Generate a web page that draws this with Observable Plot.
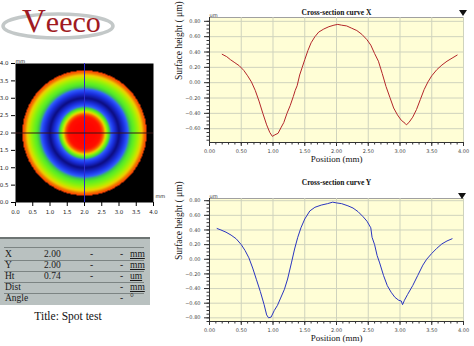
<!DOCTYPE html>
<html><head><meta charset="utf-8">
<script src="https://cdn.jsdelivr.net/npm/d3@7"></script>
<script src="https://cdn.jsdelivr.net/npm/@observablehq/plot@0.6"></script>
<style>
body{margin:0;background:#fff;}
#page{position:relative;width:474px;height:346px;overflow:hidden;background:#fff;font-family:"Liberation Serif",serif;}
.abs{position:absolute;}
#table{left:0;top:237px;width:150px;height:66px;background:#b9c1c0;border-top:2px solid #6d7473;}
.row{position:absolute;left:4px;width:140px;height:10.5px;line-height:10.5px;font-size:9.5px;color:#1a1a1a;border-bottom:1px solid #7c8483;}
.row span{position:absolute;top:0;}
.tri{width:0;height:0;border-left:4px solid transparent;border-right:4px solid transparent;border-top:6px solid #111;}
</style></head>
<body><div id="page">
<div id="logo" class="abs" style="left:0;top:0"></div>
<div id="heat" class="abs" style="left:-12px;top:50px"></div>
<div id="table" class="abs"><div class="abs" style="left:4px;top:8px;width:140px;border-top:1px solid #7c8483"></div></div>
<div class="abs" style="left:0;top:310px;width:136px;text-align:center;font-size:11.5px;color:#111">Title: Spot test</div>
<div id="cx" class="abs" style="left:170px;top:0"></div>
<div id="cy" class="abs" style="left:170px;top:170px"></div>
<div class="abs tri" style="left:459px;top:10px"></div>
<div class="abs tri" style="left:458px;top:193px"></div>
</div>
<script>
// ---- data ----
const curveXpos = [0.20,0.27,0.33,0.40,0.47,0.54,0.60,0.66,0.72,0.78,0.84,0.90,0.95,0.99,1.03,1.08,1.13,1.17,1.22,1.27,1.32,1.35,1.38,1.42,1.46,1.50,1.55,1.60,1.66,1.72,1.80,1.88,1.96,2.02,2.08,2.16,2.24,2.32,2.40,2.48,2.54,2.60,2.66,2.72,2.78,2.84,2.90,2.96,3.02,3.08,3.10,3.14,3.20,3.26,3.32,3.38,3.44,3.50,3.58,3.66,3.74,3.82,3.90];
const curveXht  = [0.37,0.34,0.30,0.26,0.22,0.16,0.09,0.01,-0.10,-0.24,-0.40,-0.55,-0.65,-0.70,-0.68,-0.66,-0.58,-0.52,-0.40,-0.30,-0.18,-0.10,-0.04,0.10,0.20,0.30,0.42,0.52,0.60,0.66,0.70,0.73,0.75,0.76,0.75,0.74,0.71,0.68,0.63,0.56,0.49,0.38,0.28,0.12,-0.05,-0.19,-0.33,-0.42,-0.49,-0.53,-0.55,-0.52,-0.45,-0.35,-0.22,-0.09,0.01,0.09,0.17,0.23,0.28,0.32,0.36];
const curveYpos = [0.12,0.18,0.26,0.34,0.42,0.50,0.56,0.62,0.68,0.74,0.80,0.86,0.90,0.93,0.97,1.02,1.07,1.12,1.18,1.23,1.29,1.34,1.39,1.44,1.50,1.58,1.66,1.76,1.86,1.94,2.00,2.08,2.18,2.26,2.34,2.42,2.48,2.54,2.56,2.60,2.64,2.68,2.74,2.80,2.86,2.92,2.98,3.02,3.04,3.07,3.12,3.20,3.28,3.36,3.42,3.50,3.58,3.66,3.74,3.82];
const curveYht  = [0.42,0.40,0.37,0.33,0.28,0.20,0.12,0.02,-0.12,-0.28,-0.44,-0.62,-0.76,-0.80,-0.79,-0.70,-0.63,-0.53,-0.41,-0.27,-0.05,0.14,0.30,0.43,0.55,0.66,0.71,0.74,0.76,0.78,0.77,0.76,0.73,0.70,0.65,0.58,0.52,0.43,0.30,0.20,0.05,-0.05,-0.22,-0.36,-0.45,-0.52,-0.56,-0.57,-0.62,-0.56,-0.48,-0.36,-0.22,-0.08,0.00,0.08,0.15,0.21,0.25,0.28];
const posTicks = [0,0.5,1,1.5,2,2.5,3,3.5,4];
const htTicksX = [-0.6,-0.4,-0.2,0,0.2,0.4,0.6,0.8];
const htTicksY = [-0.8,-0.6,-0.4,-0.2,0,0.2,0.4,0.6,0.8];
const mapTicks = [0,0.5,1,1.5,2,2.5,3,3.5,4];
// radial profile of the spot map (radius mm -> height um)
const ringRadius = [0,0.30,0.45,0.50,0.60,0.70,0.75,0.85,1.00,1.15,1.28,1.40,1.55,1.66,1.74,1.80];
const ringHeight = [0.76,0.70,0.56,0.46,0.30,0.08,-0.05,-0.35,-0.70,-0.40,-0.05,0.10,0.20,0.30,0.38,0.44];
const colorStops = [-0.7,-0.4,-0.1,0.02,0.12,0.22,0.30,0.36,0.45,0.55,0.8];
const colorRange = ["#0c0c80","#1a30e0","#3060ff","#40d040","#60f020","#b0f000","#f0d000","#f08000","#ff3000","#ff1000","#ff0000"];
const crossX = 2.0, crossY = 2.0;
const tableLabels = ["X","Y","Ht","Dist","Angle"];
const tableValues = ["2.00","2.00","0.74","",""];
const tableDash1 = ["-","-","-","",""];
const tableDash2 = ["-","-","-","-","-"];
const tableUnits = ["mm","mm","um","mm","°"];

// ---- logo ----
document.getElementById("logo").innerHTML =
 `<svg width="130" height="45">
   <ellipse cx="58" cy="26" rx="55" ry="12" fill="none" stroke="#c3c8c8" stroke-width="3.5"/>
   <text x="22" y="32" font-family="Liberation Serif" fill="#a01a22"><tspan font-size="33">V</tspan><tspan font-size="30">eeco</tspan></text>
  </svg>`;

// ---- heat map ----
const prof = d3.scaleLinear(ringRadius, ringHeight).clamp(true);
const rMax = ringRadius[ringRadius.length-1];
const tickFont = "DejaVu Sans";
const heat = Plot.plot({
  width:180, height:180, marginLeft:27, marginRight:15, marginTop:13, marginBottom:28,
  style:{fontFamily:tickFont, background:"transparent", overflow:"visible"},
  x:{domain:[0,4]}, y:{domain:[0,4]},
  color:{type:"linear", domain:colorStops, range:colorRange, interpolate:"rgb", clamp:true},
  marks:[
    Plot.frame({fill:"#000"}),
    Plot.raster({x1:0,y1:0,x2:4,y2:4, fill:(x,y)=>{const r=Math.hypot(x-crossX,y-crossY); return r>rMax?NaN:prof(r);}}),
    Plot.ruleX([crossX],{stroke:"#2a2ad0",strokeWidth:1}),
    Plot.ruleY([crossY],{stroke:"#3a1414",strokeWidth:1}),
    Plot.axisX(mapTicks,{tickSize:4, tickFormat:d3.format(".1f"), fontSize:5.5, fill:"#222", tickPadding:4, label:null}),
    Plot.axisY(mapTicks,{tickSize:4, tickFormat:d3.format(".1f"), fontSize:5.5, fill:"#222", tickPadding:3, label:null}),
    Plot.text(["mm"],{frameAnchor:"top-left", dy:-4, textAnchor:"start", fontSize:5, fill:"#222"}),
    Plot.text(["mm"],{frameAnchor:"bottom-right", dx:2, dy:-5, textAnchor:"start", fontSize:5, fill:"#222"})
  ]
});
document.getElementById("heat").append(heat);

// ---- table ----
const tbl = document.getElementById("table");
tableLabels.forEach((lab,i)=>{
  const row = document.createElement("div");
  row.className="row";
  row.style.top = (10 + i*11)+"px";
  if(i===4) row.style.borderBottom="none";
  const ul = tableUnits[i]==="°" ? "none" : "underline";
  row.innerHTML = `<span style="left:1px">${lab}</span><span style="left:40px">${tableValues[i]}</span>`+
    `<span style="left:86px">${tableDash1[i]}</span><span style="left:116px">${tableDash2[i]}</span>`+
    `<span style="left:126px;text-decoration:${ul}">${tableUnits[i]}</span>`;
  tbl.append(row);
});

// ---- cross-section charts ----
function section(pos, ht, yDomain, yTicks, color, title, h, mt, mb) {
  const data = pos.map((p,i)=>({p, h:ht[i]}));
  const minor = d3.range(Math.ceil(yDomain[0]/0.05)*0.05, yDomain[1], 0.05);
  const minorX = d3.range(0, 4.001, 0.1);
  return Plot.plot({
    width:304, height:h, marginLeft:39, marginRight:11, marginTop:mt, marginBottom:mb,
    style:{fontFamily:tickFont, background:"transparent", overflow:"visible"},
    x:{domain:[0,4]}, y:{domain:yDomain},
    marks:[
      Plot.frame({fill:"#fffed6", stroke:"#a0a0a0"}),
      Plot.gridX(posTicks,{stroke:"#cfd3bd", strokeOpacity:1}),
      Plot.gridY(yTicks,{stroke:"#cfd3bd", strokeOpacity:1}),
      Plot.ruleX([0],{stroke:"#333"}),
      Plot.ruleY([yDomain[0]],{stroke:"#333"}),
      Plot.axisY(minor,{tickSize:2.5, text:null, stroke:"#333", label:null}),
      Plot.axisX(minorX,{tickSize:2.5, text:null, stroke:"#333", label:null}),
      Plot.axisY(yTicks,{tickSize:5, tickPadding:4, tickFormat:d3.format(".2f"), fontSize:5, fill:"#444", stroke:"#333", label:null}),
      Plot.axisX(posTicks,{tickSize:4, tickPadding:3, tickFormat:d3.format(".2f"), fontSize:5, fill:"#444", stroke:"#333", label:null}),
      Plot.line(data,{x:"p", y:"h", stroke:color, strokeWidth:1}),
      Plot.text([title],{frameAnchor:"top", dy:-mt+9, fontSize:7.5, fontWeight:"bold", fontFamily:"Liberation Serif", fill:"#111"}),
      Plot.text(["um"],{frameAnchor:"top-left", dy:-4, textAnchor:"start", fontSize:5, fill:"#333"}),
      Plot.text(["Position (mm)"],{frameAnchor:"bottom", dy:19, fontSize:9, fontFamily:"Liberation Serif", fill:"#111"}),
      Plot.text(["Surface height ( μm)"],{frameAnchor:"left", dx:-31, rotate:-90, fontSize:9.5, fontFamily:"Liberation Serif", fill:"#111"})
    ]
  });
}
document.getElementById("cx").append(section(curveXpos, curveXht, [-0.78,0.85], htTicksX, "#b3262a", "Cross-section curve X", 170, 17, 28));
document.getElementById("cy").append(section(curveYpos, curveYht, [-0.85,0.83], htTicksY, "#2a35c0", "Cross-section curve Y", 176, 28, 25));
</script>
</body></html>
